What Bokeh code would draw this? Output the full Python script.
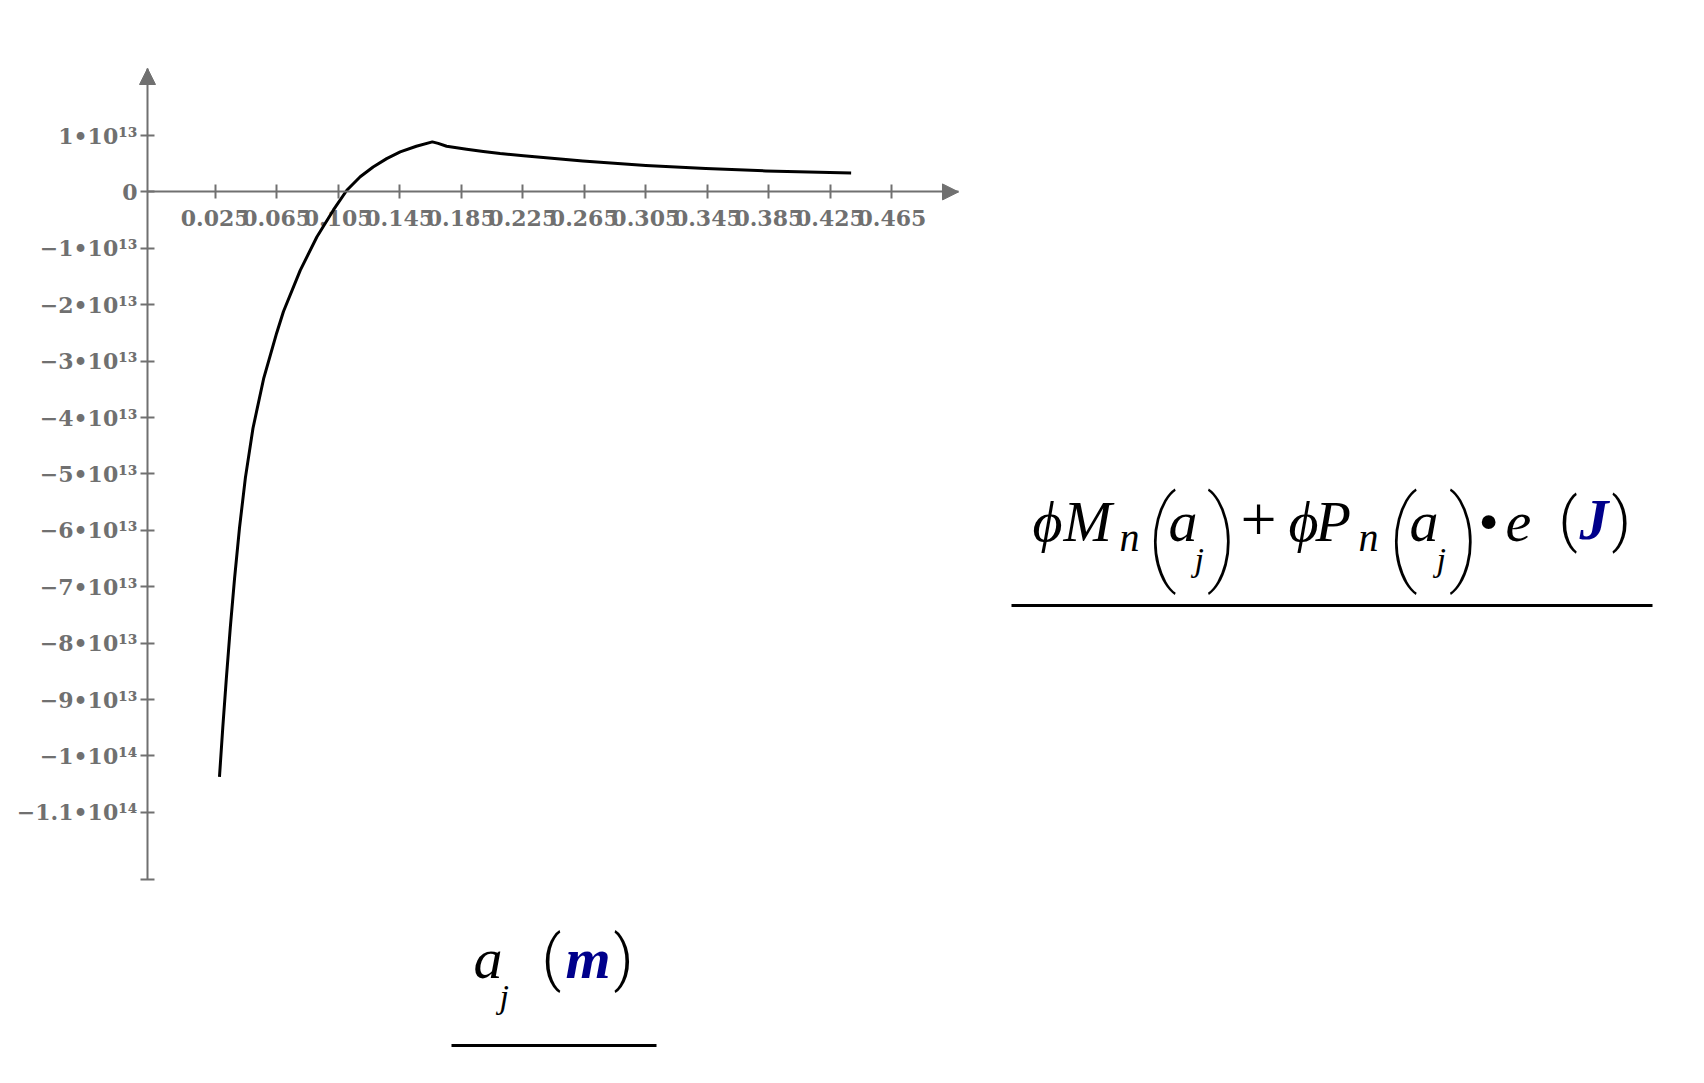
from bokeh.plotting import figure
from bokeh.models import Range1d, FixedTicker, Label, Arrow, NormalHead
from bokeh.core.properties import value
from bokeh.embed import file_html
from bokeh.resources import INLINE

# ---------------- data ----------------
a_j = [0.02780, 0.02994, 0.03228, 0.03482, 0.03761, 0.04080, 0.04464, 0.04958, 0.05660,
       0.0650, 0.0694, 0.0803, 0.0911, 0.1019, 0.1106, 0.1193, 0.1277, 0.1365,
       0.1453, 0.1558, 0.1662, 0.1700, 0.1755, 0.1885, 0.1993, 0.2103, 0.2255,
       0.2640, 0.3050, 0.3440, 0.3830, 0.4385]
phiM_plus_phiPe_e13 = [-10.37, -9.50, -8.62, -7.73, -6.85, -5.96, -5.07, -4.19, -3.30,
                       -2.50, -2.12, -1.39, -0.80, -0.32, 0.03, 0.27, 0.443, 0.59,
                       0.709, 0.81, 0.887, 0.86, 0.81, 0.757, 0.716, 0.68, 0.64,
                       0.55, 0.47, 0.415, 0.372, 0.337]

x_ticks = [0.025, 0.065, 0.105, 0.145, 0.185, 0.225, 0.265, 0.305, 0.345, 0.385, 0.425, 0.465]
x_tick_labels = ["0.025", "0.065", "0.105", "0.145", "0.185", "0.225", "0.265",
                 "0.305", "0.345", "0.385", "0.425", "0.465"]
y_ticks_e13 = [1, 0, -1, -2, -3, -4, -5, -6, -7, -8, -9, -10, -11]
y_tick_labels = ["1•10¹³", "0", "−1•10¹³", "−2•10¹³", "−3•10¹³", "−4•10¹³", "−5•10¹³",
                 "−6•10¹³", "−7•10¹³", "−8•10¹³", "−9•10¹³", "−1•10¹⁴", "−1.1•10¹⁴"]

SCALE = 1e13
y_vals = [v * SCALE for v in phiM_plus_phiPe_e13]
y_tick_vals = [t * SCALE for t in y_ticks_e13]

# axis extents (where the drawn axes start / end)
XS, XE = -0.019, 0.5083
YS, YE = -1.219e14, 2.188e13

GREY = "#707070"
NAVY = "#00008b"
TICK_FONT = "DejaVu Serif"
MATH_FONT = "Liberation Serif"
THIN_FONT = "Roboto Thin, Lato Hairline, Lato Light, Roboto Light, Liberation Serif"
LIGHT_FONT = "Roboto Light, Lato Light, Roboto, Liberation Serif"

# ---------------- page geometry ----------------
W, H = 1704, 1083
FL, FR, FT, FB = 0, 1680, 10, 1050    # frame edges (px)
AX_X, AX_TOP = 147, 68                # y-axis position / top in px
PXX = 1538.0                          # px per unit of a_j
PXY = 56.406                          # px per 1e13


def dx(px):
    return XS + (px - AX_X) / PXX


def dy(py):
    return YE - (py - AX_TOP) / PXY * SCALE


p = figure(width=W, height=H,
           x_range=Range1d(dx(FL), dx(FR)), y_range=Range1d(dy(FB), dy(FT)),
           output_backend="svg", toolbar_location=None, title=None,
           y_axis_location="right",
           min_border_left=FL, min_border_right=W - FR,
           min_border_top=FT, min_border_bottom=H - FB)
p.outline_line_color = None
p.xgrid.grid_line_color = None
p.ygrid.grid_line_color = None
p.background_fill_color = "white"
p.border_fill_color = "white"

xa = p.xaxis[0]
xa.fixed_location = 0
xa.bounds = (XS, XE)
xa.ticker = FixedTicker(ticks=x_ticks)
xa.major_label_overrides = {t: "" for t in x_ticks}

ya = p.yaxis[0]
ya.fixed_location = XS
ya.bounds = (YS, YE)
ya.ticker = FixedTicker(ticks=y_tick_vals + [YS])
ov = {t: "" for t in y_tick_vals}
ov[YS] = ""
ya.major_label_overrides = ov

for ax in (xa, ya):
    ax.axis_line_color = GREY
    ax.axis_line_width = 2
    ax.major_tick_line_color = GREY
    ax.major_tick_line_width = 2
    ax.major_tick_in = 7
    ax.major_tick_out = 7
    ax.minor_tick_line_color = None
    ax.major_label_text_font_size = "1px"
    ax.major_label_standoff = 0

# tick labels
p.text(x=[XS] * len(y_tick_vals), y=y_tick_vals, text=y_tick_labels,
       x_offset=-10, text_align="right", text_baseline="middle",
       text_font=value(TICK_FONT), text_font_style="bold",
       text_font_size="22px", text_color=GREY)
p.text(x=x_ticks, y=[0] * len(x_ticks), text=x_tick_labels,
       y_offset=26, text_align="center", text_baseline="middle",
       text_font=value(TICK_FONT), text_font_style="bold",
       text_font_size="22px", text_color=GREY)

# the curve
p.line(a_j, y_vals, line_color="black", line_width=3, line_join="round")

# axis arrow heads
p.add_layout(Arrow(end=NormalHead(size=16, fill_color=GREY, line_color=GREY),
                   x_start=XS, y_start=YE - 1e11, x_end=XS, y_end=YE,
                   line_color=GREY, line_width=2))
p.add_layout(Arrow(end=NormalHead(size=16, fill_color=GREY, line_color=GREY),
                   x_start=XE - 0.0005, y_start=0, x_end=XE, y_end=0,
                   line_color=GREY, line_width=2))

MID = 0.3375   # Label is anchored at the middle of its line box


def put(txt, px, base, size, style="italic", color="black", font=MATH_FONT):
    p.add_layout(Label(x=dx(px), y=dy(base - MID * size), text=txt, text_font=font,
                       text_font_size=f"{size}px", text_font_style=style,
                       text_color=color, text_align="left",
                       text_baseline="middle"))


def rule(px0, px1, py):
    p.add_layout(Arrow(start=None, end=None, x_start=dx(px0), y_start=dy(py),
                       x_end=dx(px1), y_end=dy(py), line_color="black", line_width=3))


# y-axis title (right of the chart)
put("ϕ", 1032, 541, 58)
put("M", 1063, 541, 58)
put("n", 1119, 550, 40)
put("(", 1146, 570, 103, "normal", font=THIN_FONT)
put("a", 1168, 541, 58)
put("j", 1194, 570, 34)
put(")", 1206, 570, 103, "normal", font=THIN_FONT)
put("+", 1240, 541, 64, "normal")
put("ϕ", 1288, 541, 58)
put("P", 1315, 541, 58)
put("n", 1358, 550, 40)
put("(", 1387, 570, 103, "normal", font=THIN_FONT)
put("a", 1409, 541, 58)
put("j", 1436, 570, 34)
put(")", 1448, 570, 103, "normal", font=THIN_FONT)
put("•", 1478, 541, 58, "normal")
put("e", 1505, 541, 58)
put("(", 1558, 539, 60, "normal", font=LIGHT_FONT)
put("J", 1579, 539, 58, "bold italic", NAVY)
put(")", 1611, 539, 60, "normal", font=LIGHT_FONT)
rule(1011, 1652, 605)

# x-axis title (below the chart)
put("a", 473, 978, 58)
put("j", 499, 1007, 34)
put("(", 541, 978, 62, "normal", font=LIGHT_FONT)
put("m", 565, 978, 58, "bold italic", NAVY)
put(")", 613, 978, 62, "normal", font=LIGHT_FONT)
rule(451, 656, 1045)

open("out.html", "w").write(file_html(p, INLINE))
